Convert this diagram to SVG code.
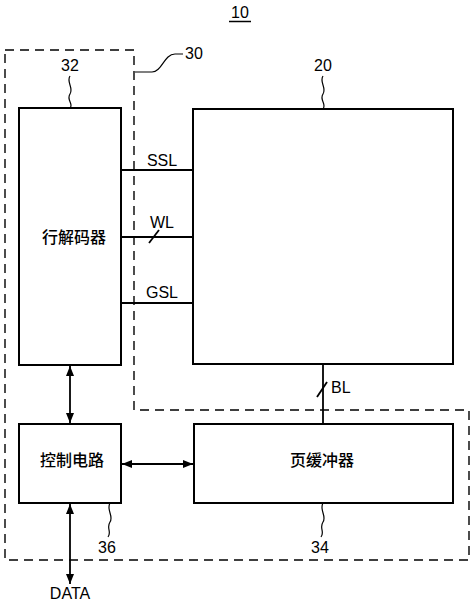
<svg xmlns="http://www.w3.org/2000/svg" width="474" height="604" viewBox="0 0 474 604">
<style>
.box{fill:#fff;stroke:#000;stroke-width:2}
.ln{fill:none;stroke:#000;stroke-width:1.8}
.thin{fill:none;stroke:#000;stroke-width:1.2}
.dash{fill:none;stroke:#000;stroke-width:1.4;stroke-dasharray:9,6}
.t{font-family:"Liberation Sans","Noto Sans CJK SC",sans-serif;font-size:16px;fill:#000}
.cjk{font-family:"Noto Sans CJK SC",sans-serif;font-size:16px;font-weight:500;fill:#000}
.c{text-anchor:middle}
</style>
<defs>
<marker id="ah" viewBox="0 0 10 10" refX="10" refY="5" markerWidth="10" markerHeight="10" markerUnits="userSpaceOnUse" orient="auto-start-reverse">
<path d="M0,1 L10,5 L0,9 Z" fill="#000"/>
</marker>
</defs>
<rect width="474" height="604" fill="#fff"/>
<g id="title">
<text class="t c" x="240" y="18" font-size="17">10</text>
<line x1="229" y1="21.5" x2="251" y2="21.5" stroke="#000" stroke-width="1.5"/>
</g>
<g id="boundary30">
<path class="dash" d="M5,50 H134 V410 H469 V560 H5 Z"/>
<path class="thin" d="M135,72 H152 C162,72 164,54 175,54 H183"/>
<text class="t" x="185" y="59">30</text>
</g>
<g id="node20">
<rect class="box" x="193" y="109" width="260" height="255"/>
<path class="thin" d="M323,76 C319,82 327,88 323,94 C319,100 327,104 323,109"/>
<text class="t c" x="323" y="71">20</text>
</g>
<g id="node32">
<rect class="box" x="19" y="108" width="102" height="257"/>
<path class="thin" d="M70,76 C66,82 74,88 70,94 C66,100 74,104 70,108"/>
<text class="t c" x="70" y="71">32</text>
<text class="cjk c" x="74" y="243">行解码器</text>
</g>
<g id="node36">
<rect class="box" x="19" y="424" width="102" height="79"/>
<path class="thin" d="M110,503 C106,510 114,516 110,522 C106,528 112,532 108,537"/>
<text class="t c" x="107" y="553">36</text>
<text class="cjk c" x="72" y="466">控制电路</text>
</g>
<g id="node34">
<rect class="box" x="194" y="424" width="259" height="79"/>
<path class="thin" d="M323,503 C319,510 327,516 323,522 C319,528 325,532 321,537"/>
<text class="t c" x="320" y="553">34</text>
<text class="cjk c" x="322" y="466">页缓冲器</text>
</g>
<g id="connectors">
<line class="ln" x1="121" y1="170" x2="193" y2="170"/>
<line class="ln" x1="121" y1="237" x2="193" y2="237"/>
<line class="ln" x1="121" y1="303" x2="193" y2="303"/>
<line class="ln" x1="149" y1="243" x2="159" y2="230"/>
<text class="t c" x="162" y="166">SSL</text>
<text class="t c" x="162" y="228">WL</text>
<text class="t c" x="162" y="298">GSL</text>
<line class="ln" x1="323" y1="364" x2="323" y2="424"/>
<line class="ln" x1="317" y1="397" x2="327" y2="382"/>
<text class="t" x="331" y="393">BL</text>
<line class="ln" x1="70" y1="366" x2="70" y2="423" marker-start="url(#ah)" marker-end="url(#ah)"/>
<line class="ln" x1="122" y1="464" x2="193" y2="464" marker-start="url(#ah)" marker-end="url(#ah)"/>
<line class="ln" x1="70" y1="504" x2="70" y2="584" marker-start="url(#ah)" marker-end="url(#ah)"/>
<text class="t c" x="70" y="599">DATA</text>
</g>
</svg>
